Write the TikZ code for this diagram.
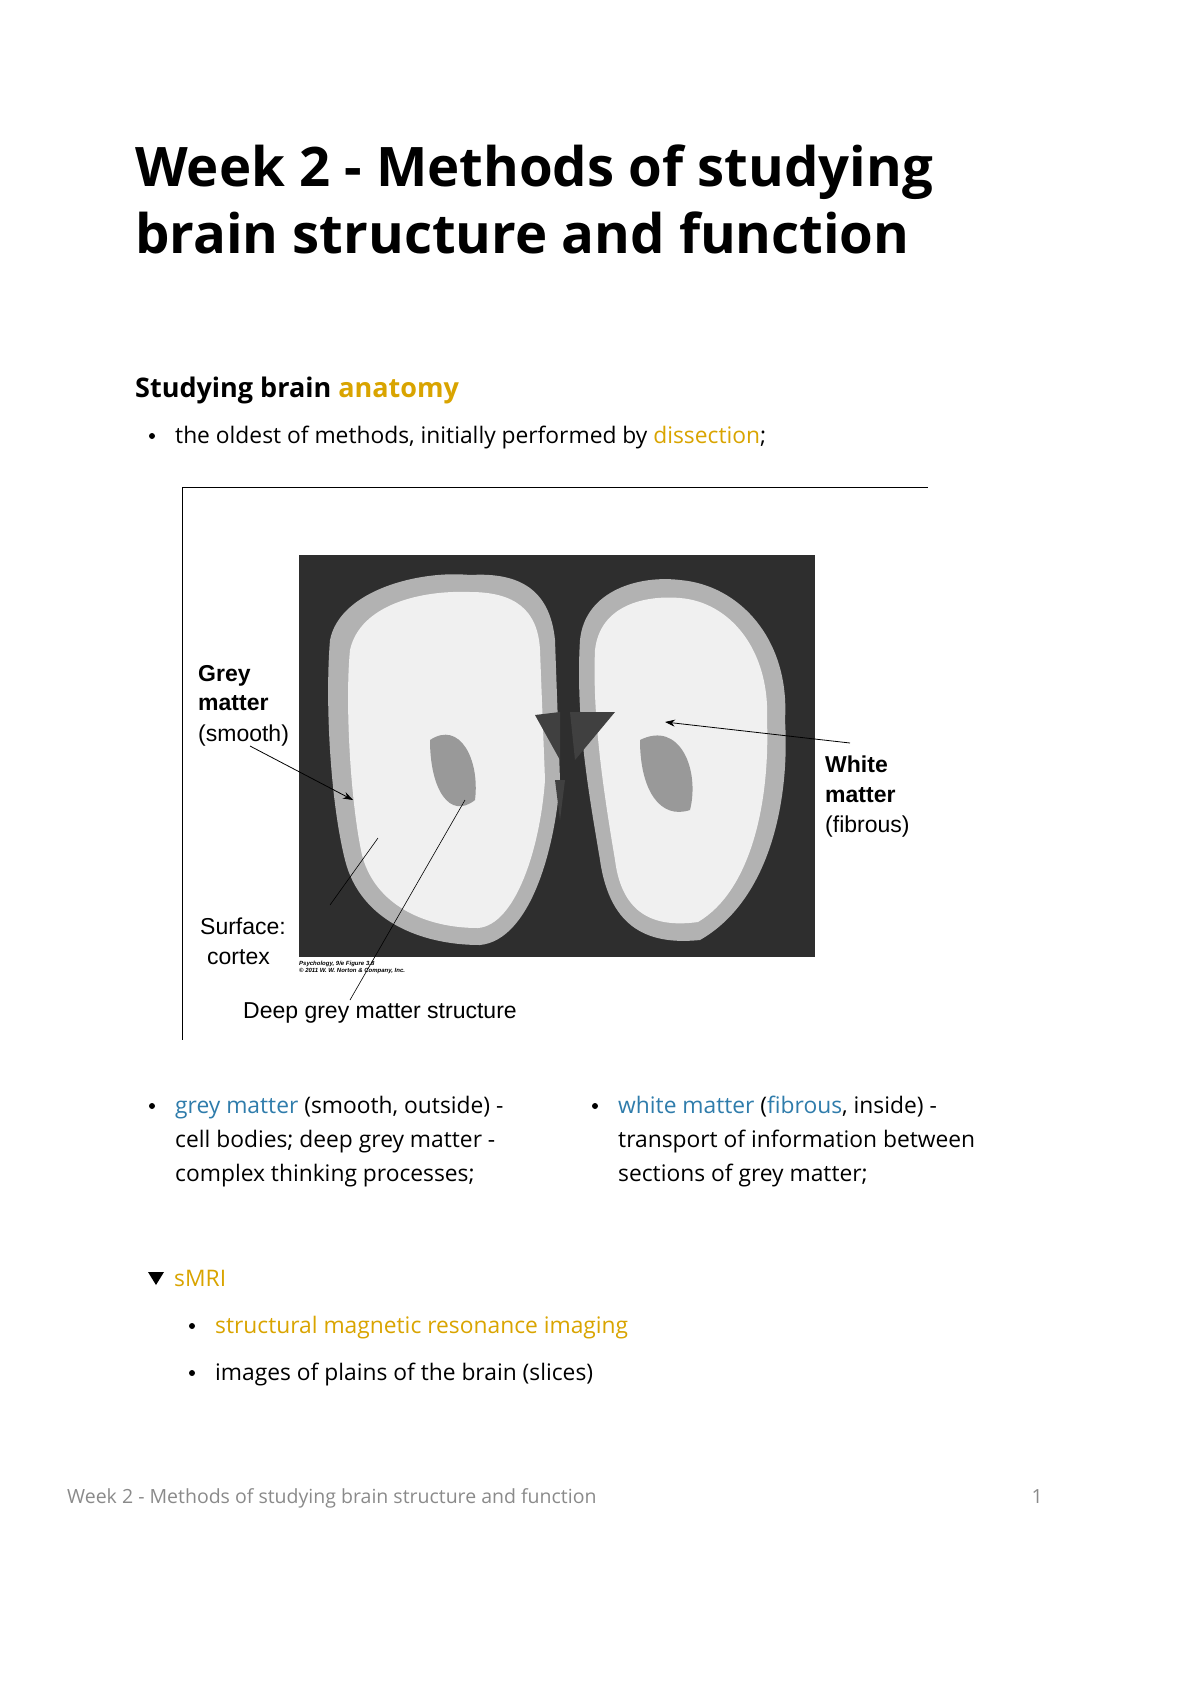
\documentclass[tikz,border=0pt]{standalone}
\usepackage{fontspec}
\setmainfont{Liberation Sans}
\newfontfamily\doc{Open Sans}
\usetikzlibrary{arrows.meta}
\definecolor{ylw}{HTML}{D9A400}
\definecolor{blu}{HTML}{2F7CAB}
\definecolor{foot}{HTML}{8A8A8A}
\begin{document}
\begin{tikzpicture}[x=1pt,y=-1pt,
 txt/.style={anchor=base west,inner sep=0pt,font=\doc\fontsize{22.8}{26}\selectfont},
 lab/.style={anchor=base west,inner sep=0pt,font=\fontsize{23}{27}\selectfont},
 blt/.style={circle,fill=black,inner sep=0pt,minimum size=6pt},
 ptr/.style={thick,-{Stealth[length=10pt,width=7pt]}},
 thin/.style={line width=0.6pt}]
\useasboundingbox (0,0) rectangle (1200,1698);
\node[txt,font=\doc\bfseries\fontsize{54.5}{60}\selectfont] (t1) at (135,186) {Week 2 - Methods of studying};
\node[txt,font=\doc\bfseries\fontsize{54.5}{60}\selectfont] (t2) at (135,253) {brain structure and function};
\node[txt,font=\doc\bfseries\fontsize{27}{30}\selectfont] (h) at (135,397) {Studying brain \textcolor{ylw}{anatomy}};
\node[blt] (b0) at (152,436) {};
\node[txt] (l0) at (175,443) {the oldest of methods, initially performed by \textcolor{ylw}{dissection};};
% frame
\draw[thin] (182,487) coordinate (fa) -- (182,1040) coordinate (fb);
\draw[thin] (fa) -- (928,487) coordinate (fc);
% photo
\fill[black!82] (299,555) rectangle (815,957);
\fill[black!30] (330,640) .. controls (340,590) and (420,570) .. (470,575)
  .. controls (520,572) and (550,590) .. (555,640) -- (560,780)
  .. controls (555,850) and (530,940) .. (480,945)
  .. controls (420,945) and (360,920) .. (345,860)
  .. controls (330,800) and (325,700) .. (330,640) -- cycle;
\fill[black!30] (580,640) .. controls (585,590) and (640,575) .. (680,580)
  .. controls (740,585) and (790,640) .. (785,720)
  .. controls (790,800) and (770,900) .. (700,940)
  .. controls (650,945) and (610,930) .. (600,860)
  .. controls (590,800) and (575,720) .. (580,640) -- cycle;
\fill[black!6] (350,650) .. controls (360,605) and (420,590) .. (470,592)
  .. controls (515,592) and (538,610) .. (540,650) -- (545,780)
  .. controls (540,850) and (515,925) .. (478,928)
  .. controls (425,928) and (375,905) .. (362,855)
  .. controls (350,800) and (345,700) .. (350,650) -- cycle;
\fill[black!6] (595,650) .. controls (600,605) and (645,595) .. (680,598)
  .. controls (730,602) and (770,650) .. (767,720)
  .. controls (770,800) and (752,890) .. (698,922)
  .. controls (655,928) and (622,915) .. (615,860)
  .. controls (605,800) and (592,720) .. (595,650) -- cycle;
\fill[black!40] (430,740) .. controls (460,720) and (480,760) .. (475,800) .. controls (450,820) and (430,790) .. (430,740) -- cycle;
\fill[black!40] (640,740) .. controls (680,720) and (700,770) .. (690,810) .. controls (660,820) and (640,790) .. (640,740) -- cycle;
\fill[black!75] (535,715) -- (560,712) -- (560,760) -- cycle;
\fill[black!75] (570,712) -- (615,712) -- (575,760) -- cycle;
\fill[black!75] (555,780) -- (565,780) -- (560,820) -- cycle;
\node[anchor=north west,inner sep=0pt,font=\bfseries\itshape\fontsize{6}{7}\selectfont,align=left] (cr) at (299,961) {Psychology, 9/e Figure 3.8\\\textcopyright\ 2011 W. W. Norton \& Company, Inc.};
% labels
\node[lab,font=\bfseries\fontsize{23}{27}\selectfont] (g1) at (198,681) {Grey};
\node[lab,font=\bfseries\fontsize{23}{27}\selectfont] (g2) at (198,710) {matter};
\node[lab] (g3) at (198,741) {(smooth)};
\coordinate (ga) at (250,746);
\coordinate (gb) at (353,800);
\draw[ptr] (ga) -- (gb);
\node[lab,font=\bfseries\fontsize{23}{27}\selectfont] (w1) at (825,772) {White};
\node[lab,font=\bfseries\fontsize{23}{27}\selectfont] (w2) at (825,802) {matter};
\node[lab] (w3) at (825,832) {(fibrous)};
\coordinate (wa) at (850,743);
\coordinate (wb) at (665,722);
\draw[ptr] (wa) -- (wb);
\node[lab] (s1) at (200,934) {Surface:};
\node[lab] (s2) at (207,964) {cortex};
\coordinate (sa) at (330,905);
\coordinate (sb) at (378,838);
\draw[thin] (sa) -- (sb);
\node[lab] (d) at (243,1018) {Deep grey matter structure};
\coordinate (da) at (350,1000);
\coordinate (db) at (465,800);
\draw[thin] (da) -- (db);
% lists
\node[blt] (b1) at (152,1106) {};
\node[txt] (a1) at (175,1113) {\textcolor{blu}{grey matter} (smooth, outside) -};
\node[txt] (a2) at (175,1147) {cell bodies; deep grey matter -};
\node[txt] (a3) at (175,1181) {complex thinking processes;};
\node[blt] (b2) at (595,1106) {};
\node[txt] (c1) at (618,1113) {\textcolor{blu}{white matter} (\textcolor{blu}{fibrous}, inside) -};
\node[txt] (c2) at (618,1147) {transport of information between};
\node[txt] (c3) at (618,1181) {sections of grey matter;};
\fill (148,1272) -- (164,1272) -- (156,1285) -- cycle;
\node[txt] (sm) at (174,1286) {\textcolor{ylw}{sMRI}};
\node[blt] (b3) at (192,1326) {};
\node[txt] (m1) at (215,1333) {\textcolor{ylw}{structural magnetic resonance imaging}};
\node[blt] (b4) at (192,1373) {};
\node[txt] (m2) at (215,1380) {images of plains of the brain (slices)};
\node[txt,font=\doc\fontsize{19.5}{22}\selectfont,text=foot] (f1) at (67,1503) {Week 2 - Methods of studying brain structure and function};
\node[txt,font=\doc\fontsize{19.5}{22}\selectfont,text=foot,anchor=base east] (f2) at (1043,1503) {1};
\end{tikzpicture}
\end{document}
